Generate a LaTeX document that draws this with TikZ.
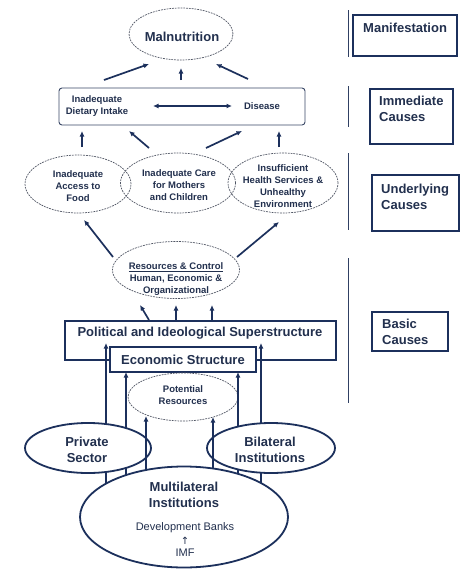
\documentclass[tikz,border=0pt]{standalone}
\usepackage{fontspec}
\setmainfont{Liberation Sans}
\newfontfamily\dejavu{DejaVu Sans}
\usetikzlibrary{shapes.geometric,arrows.meta}
\definecolor{navy}{RGB}{28,48,92}
\definecolor{txt}{RGB}{34,48,78}
\definecolor{dgray}{RGB}{80,86,100}
\begin{document}
\begin{tikzpicture}[x=1pt,y=-1pt,
  arr/.style={navy, line width=1.7pt, -{Latex[length=5.5pt,width=5pt]}},
  darr/.style={navy, line width=1.7pt, {Latex[length=5.5pt,width=5pt]}-{Latex[length=5.5pt,width=5pt]}},
  dell/.style={ellipse, draw=dgray, dash pattern=on 1.8pt off 1pt, line width=0.7pt, inner sep=0pt},
  sell/.style={ellipse, draw=navy, line width=1.8pt, fill=white, inner sep=0pt},
  sm/.style={font=\fontsize{9.5}{12}\selectfont\bfseries, text=txt, align=center},
  big/.style={font=\fontsize{13}{16}\selectfont\bfseries, text=txt, align=center},
  reg/.style={font=\fontsize{11}{13}\selectfont, text=txt, align=center},
  lbl/.style={font=\fontsize{13}{16.5}\selectfont\bfseries, text=txt, align=left, anchor=north west, inner sep=0pt},
  lbox/.style={draw=navy, line width=1.3pt, inner sep=0pt},
  sepl/.style={draw=navy!80!gray, line width=1pt}
]
\useasboundingbox (0,0) rectangle (474,579);
\fill[white] (0,0) rectangle (474,579);

% ---- Manifestation
\node[dell, minimum width=104pt, minimum height=52pt] (mal) at (181,34) {};
\node[big] (maltxt) at (182,36.5) {Malnutrition};
\coordinate (m1a) at (104,80); \coordinate (m1b) at (149,64);
\coordinate (m2a) at (181,80); \coordinate (m2b) at (181,68);
\coordinate (m3a) at (248,79); \coordinate (m3b) at (216,64);
\draw[arr] (m1a) -- (m1b);
\draw[arr] (m2a) -- (m2b);
\draw[arr] (m3a) -- (m3b);

% ---- Immediate
\node[draw=navy!70!gray, rounded corners=3pt, line width=0.9pt, minimum width=246pt, minimum height=37pt, inner sep=0pt] (imm) at (182,106.5) {};
\node[sm] (diet) at (97,106.5) {Inadequate\\Dietary Intake};
\node[sm] (dis) at (262,106) {Disease};
\coordinate (da) at (153,106); \coordinate (db) at (232,106);
\draw[darr] (da) -- (db);

\coordinate (u1a) at (82,147); \coordinate (u1b) at (82,131);
\coordinate (u2a) at (149,148); \coordinate (u2b) at (129,131);
\coordinate (u3a) at (206,148); \coordinate (u3b) at (242,131);
\coordinate (u4a) at (279,147); \coordinate (u4b) at (279,131);
\draw[arr] (u1a) -- (u1b);
\draw[arr] (u2a) -- (u2b);
\draw[arr] (u3a) -- (u3b);
\draw[arr] (u4a) -- (u4b);

% ---- Underlying
\node[dell, minimum width=106pt, minimum height=58pt] (acc) at (78,184) {};
\node[sm] (acctxt) at (78,186) {Inadequate\\Access to\\Food};
\node[dell, minimum width=115pt, minimum height=60pt] (care) at (178,183) {};
\node[sm] (caretxt) at (179,185.5) {Inadequate Care\\for Mothers\\and Children};
\node[dell, minimum width=110pt, minimum height=60pt] (hea) at (283,183) {};
\node[sm] (heatxt) at (283,186.5) {Insufficient\\Health Services \&\\Unhealthy\\Environment};

\node[dell, minimum width=127pt, minimum height=57pt] (res) at (176,270) {};
\node[sm] (restxt) at (176,279.5) {\underline{Resources \& Control}\\Human, Economic \&\\Organizational};
\coordinate (r1a) at (113,257); \coordinate (r1b) at (84,220);
\coordinate (r2a) at (237,257); \coordinate (r2b) at (279,222);
\draw[arr] (r1a) -- (r1b);
\draw[arr] (r2a) -- (r2b);

% ---- Basic
\coordinate (p1a) at (149,320); \coordinate (p1b) at (140,305);
\coordinate (p2a) at (176,320); \coordinate (p2b) at (176,305);
\coordinate (p3a) at (212,320); \coordinate (p3b) at (212,305);
\draw[arr] (p1a) -- (p1b);
\draw[arr] (p2a) -- (p2b);
\draw[arr] (p3a) -- (p3b);

\node[lbox, fill=white, minimum width=271pt, minimum height=39pt] (pol) at (200.5,340.5) {};
\node[big] (poltxt) at (200,333.5) {Political and Ideological Superstructure};
\node[lbox, fill=white, minimum width=146pt, minimum height=25pt] (eco) at (183,359.5) {};
\node[big] (ecotxt) at (183,359.5) {Economic Structure};
\node[dell, minimum width=110pt, minimum height=48pt] (pot) at (183,397) {};
\node[sm] (pottxt) at (183,395.5) {Potential\\Resources};

% vertical arrows from the multilateral institutions
\coordinate (v1a) at (106,484); \coordinate (v1b) at (106,343);
\coordinate (v2a) at (126,476); \coordinate (v2b) at (126,372);
\coordinate (v3a) at (146,471); \coordinate (v3b) at (146,416);
\coordinate (v4a) at (213,469); \coordinate (v4b) at (213,417);
\coordinate (v5a) at (238,474); \coordinate (v5b) at (238,372);
\coordinate (v6a) at (261,483); \coordinate (v6b) at (261,343);
\draw[arr] (v1a) -- (v1b);
\draw[arr] (v2a) -- (v2b);
\draw[arr] (v5a) -- (v5b);
\draw[arr] (v6a) -- (v6b);

\node[sell, minimum width=126pt, minimum height=50pt] (priv) at (88,448) {};
\node[big] (privtxt) at (87,450) {Private\\Sector};
\node[sell, minimum width=128pt, minimum height=50pt] (bil) at (271,448) {};
\node[big] (biltxt) at (270,450) {Bilateral\\Institutions};
\draw[arr] (v3a) -- (v3b);
\draw[arr] (v4a) -- (v4b);

\node[sell, minimum width=208pt, minimum height=101pt] (mult) at (184,517) {};
\node[big] (multtxt) at (184,495) {Multilateral\\Institutions};
\node[reg] (dev) at (185,528) {Development Banks};
\node[reg, font=\fontsize{10}{12}\dejavu] (up) at (185,541) {↑};
\node[reg] (imf) at (185,553) {IMF};

% ---- right column
\draw[sepl] (348,10) -- (348,57);
\draw[sepl] (348,86) -- (348,127);
\draw[sepl] (348,153) -- (348,230);
\draw[sepl] (348,258) -- (348,403);

\node[lbox, minimum width=104pt, minimum height=41pt] (bman) at (405,35.5) {};
\node[lbl] (tman) at (363,23) {Manifestation};
\node[lbox, minimum width=83pt, minimum height=55pt] (bimm) at (411.5,116.5) {};
\node[lbl] (timm) at (379,95.5) {Immediate\\Causes};
\node[lbox, minimum width=87pt, minimum height=56pt] (bund) at (415.5,203) {};
\node[lbl] (tund) at (381,183.5) {Underlying\\Causes};
\node[lbox, minimum width=76pt, minimum height=39pt] (bbas) at (410,331.5) {};
\node[lbl] (tbas) at (382,318.5) {Basic\\Causes};
\end{tikzpicture}
\end{document}
